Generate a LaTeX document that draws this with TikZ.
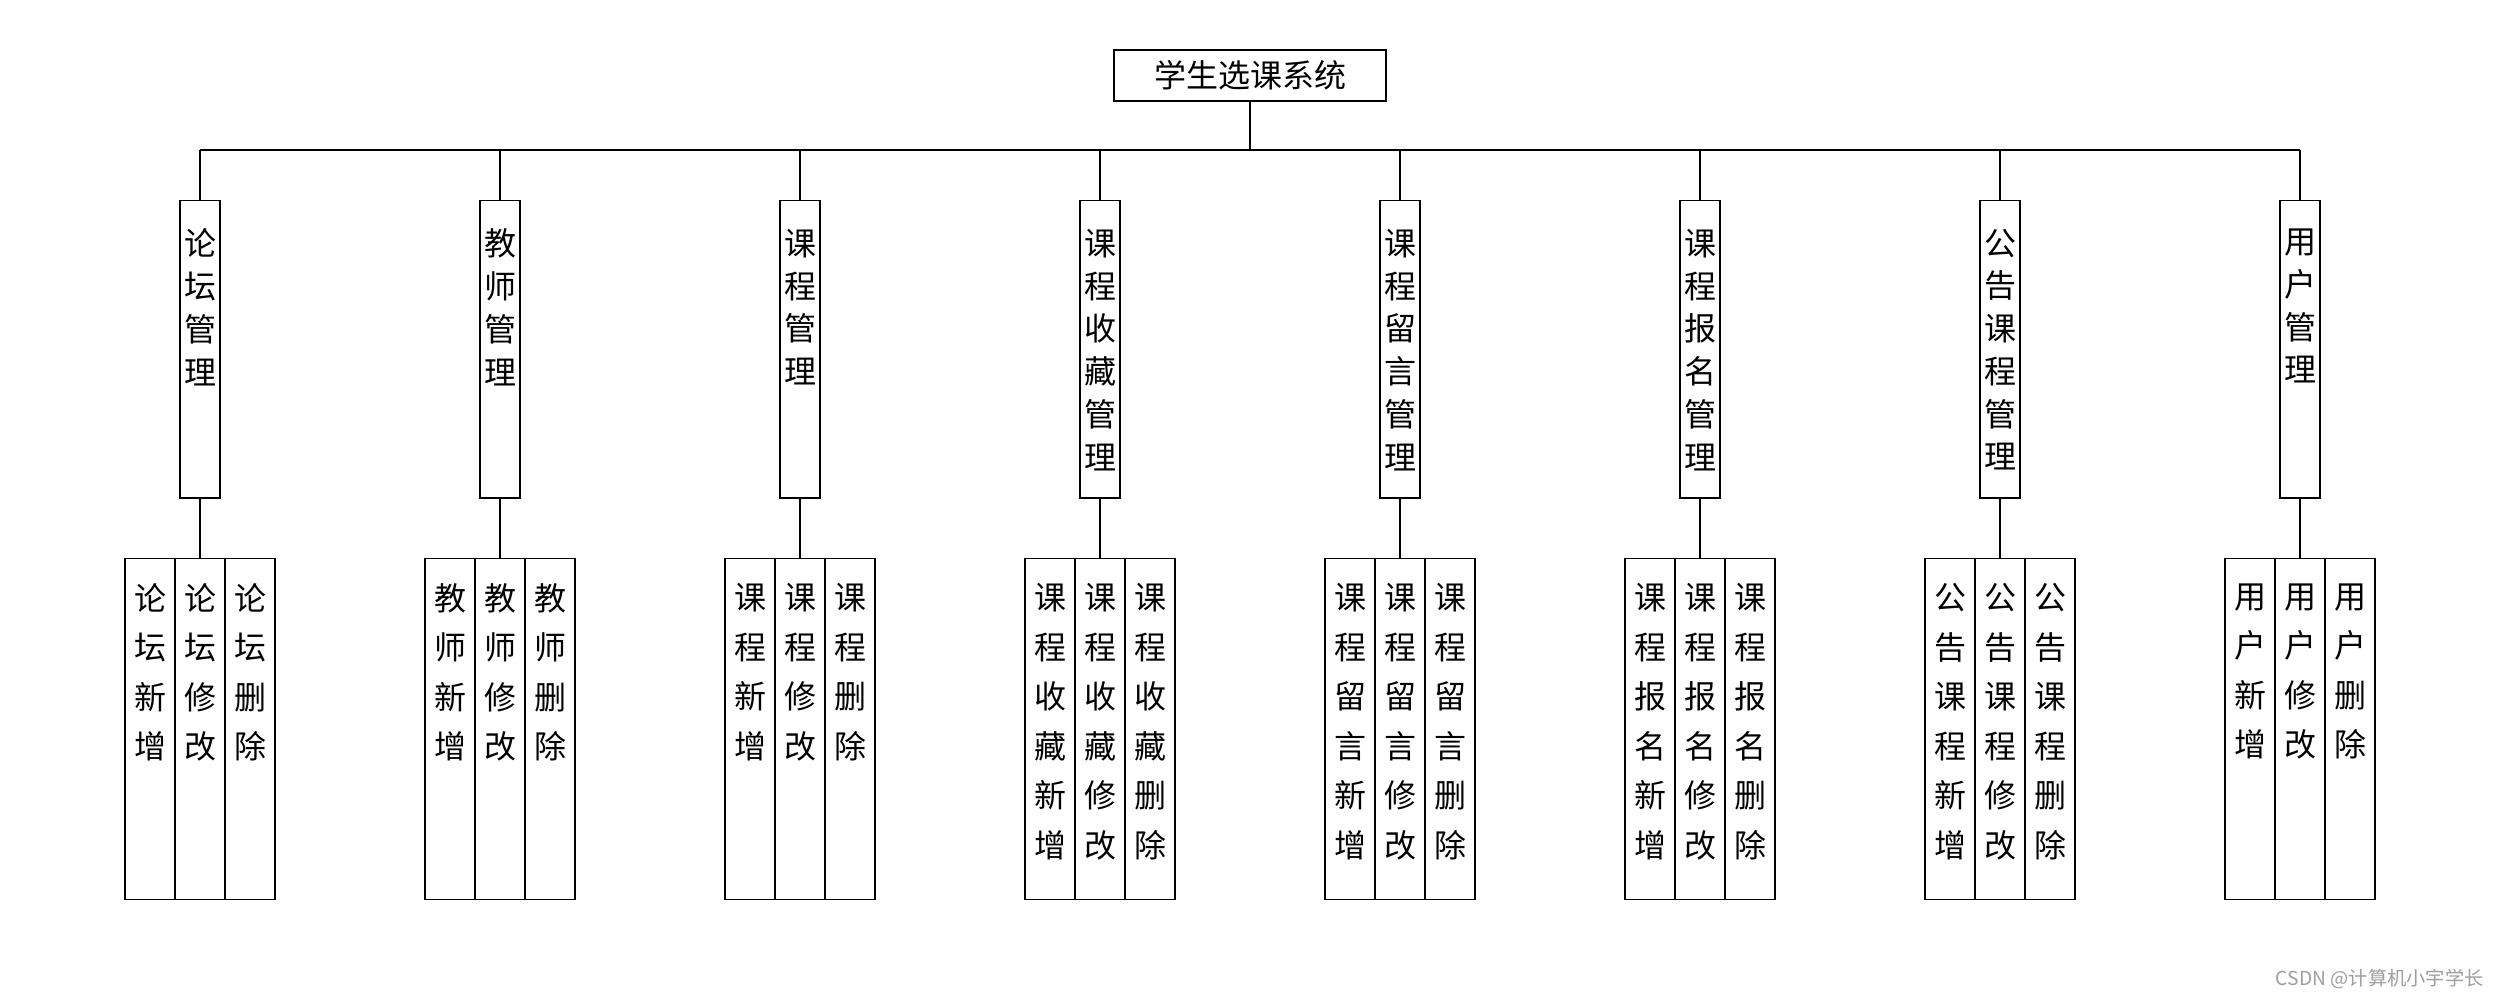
\documentclass[tikz,border=0pt]{standalone}
\usepackage{fontspec}
\setmainfont{Noto Sans CJK SC}
\begin{document}
\begin{tikzpicture}[x=0.4pt,y=-0.4pt,
  txt/.style={font={\fontsize{12.8pt}{17.1pt}\selectfont}},
  topbox/.style={draw,line width=0.8pt,minimum width=108.8pt,minimum height=20.2pt,inner sep=0pt,txt},
  midbox/.style={draw,line width=0.5pt,minimum width=16pt,minimum height=119pt,inner sep=0pt},
  leafbox/.style={draw,line width=0.7pt,minimum width=20pt,minimum height=136.4pt,inner sep=0pt},
  midtxt/.style={anchor=north,inner sep=0pt,align=center,font={\fontsize{12.8pt}{17.1pt}\selectfont}},
  leaftxt/.style={anchor=north,inner sep=0pt,align=center,font={\fontsize{12.8pt}{19.8pt}\selectfont}},
  conn/.style={line width=0.5pt},
  busline/.style={line width=0.8pt},
  wm/.style={anchor=east,inner sep=0pt,text=black!38,font={\fontsize{7.7pt}{9pt}\selectfont}}
]
\useasboundingbox (0,0) rectangle (2500,1000);
\fill[white] (0,0) rectangle (2500,1000);

\node[topbox] (root) at (1250,75.4) {学生选课系统};
\coordinate (busM) at (1250,150.4);
\coordinate (busL) at (200,150.4);
\coordinate (busR) at (2300,150.4);
\draw[conn] (root.south) -- (busM);
\draw[busline] (busL) -- (busR);

\foreach \i/\p in {1/{论\\坛},2/{教\\师},3/{课\\程},4/{课\\程\\收\\藏},5/{课\\程\\留\\言},6/{课\\程\\报\\名},7/{公\\告\\课\\程},8/{用\\户}}{
  \pgfmathsetmacro\cx{200+300*(\i-1)}
  \node[midbox] (m\i) at (\cx,349.2) {};
  \node[midtxt] (mt\i) at (\cx,228.5) {\p\\管\\理};
  \node[leafbox] (a\i) at (\cx-50,728.9) {};
  \node[leafbox] (b\i) at (\cx,728.9) {};
  \node[leafbox] (c\i) at (\cx+50,728.9) {};
  \node[leaftxt] (at\i) at (\cx-50,583) {\p\\新\\增};
  \node[leaftxt] (bt\i) at (\cx,583) {\p\\修\\改};
  \node[leaftxt] (ct\i) at (\cx+50,583) {\p\\删\\除};
  \draw[conn] (m\i.north |- busM) -- (m\i.north);
  \draw[conn] (m\i.south) -- (b\i.north);
}

\node[wm] (mark) at (2484,978.5) {CSDN @计算机小宇学长};
\end{tikzpicture}
\end{document}
